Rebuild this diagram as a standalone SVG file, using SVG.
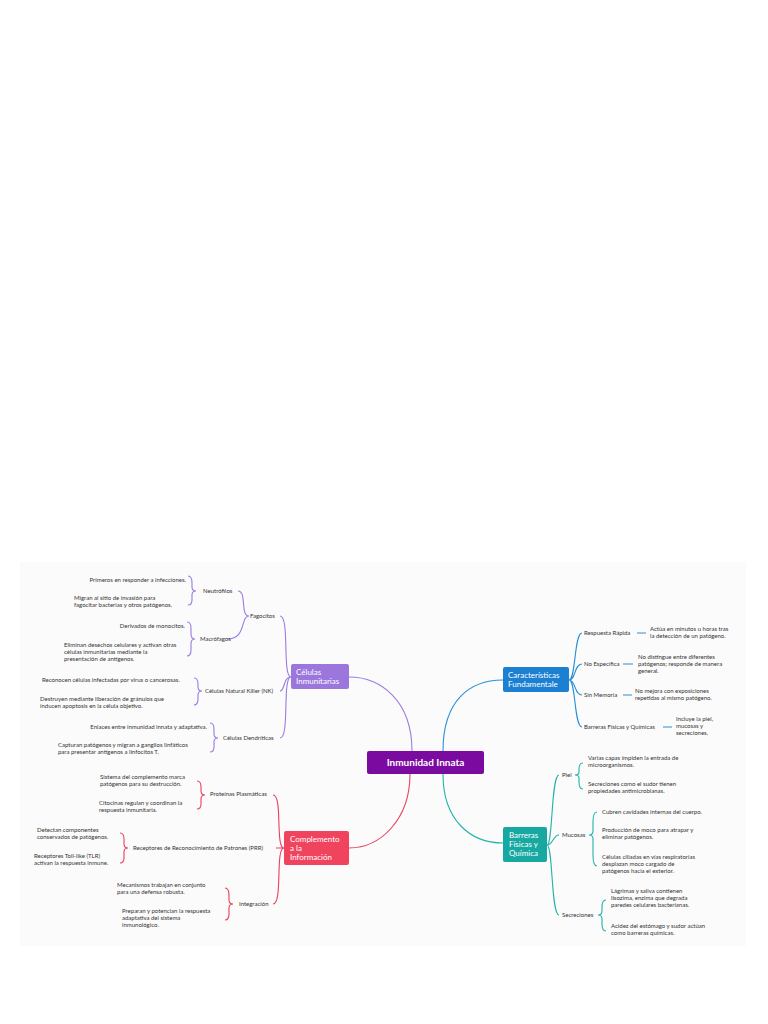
<svg xmlns="http://www.w3.org/2000/svg" width="768" height="1024" viewBox="0 0 768 1024">
<style>
text{font-family:Lato,"Open Sans",sans-serif;font-size:6px;fill:#333}
.n{font-size:8px;fill:#fff}
.p{fill:none;stroke:#9b7be0;stroke-width:1.1}
.r{fill:none;stroke:#e8405e;stroke-width:1.1}
.b{fill:none;stroke:#2a8fd6;stroke-width:1.1}
.t{fill:none;stroke:#22b3aa;stroke-width:1.1}
</style>
<rect x="0" y="0" width="768" height="1024" fill="#fff"/>
<rect x="20" y="562" width="726" height="384" fill="#fbfbfb"/>
<g id="connectors">
<path class="p" d="M412,751 C412,700 380,677 349,677"/>
<path class="b" d="M443,751 C443,700 470,680 503,680"/>
<path class="r" d="M410,774 C410,820 380,848 349,848"/>
<path class="t" d="M443,774 C443,820 470,843 503,843"/>
<!-- celulas -->
<path class="p" d="M291,677 C282,677 290,616 280,616 M291,677 C283,677 285,691 280,691 M291,677 C282,677 290,738 280,738"/>
<path class="p" d="M249,616 C240,616 247,591 238,591 M249,616 C240,616 247,639 227,639"/>
<path class="p" d="M188,576 Q192,576 192,583 L192,587 Q192,591 196,591 Q192,591 192,595 L192,600 Q192,605 188,605"/>
<path class="p" d="M187,622 Q191,622 191,628 L191,634 Q191,639 195,639 Q191,639 191,644 L191,650 Q191,656 187,656"/>
<path class="p" d="M194,678 Q198,678 198,684 L198,687 Q198,691 202,691 Q198,691 198,695 L198,699 Q198,705 194,705"/>
<path class="p" d="M210,723 Q214,723 214,729 L214,734 Q214,738 218,738 Q214,738 214,742 L214,747 Q214,752 210,752"/>
<!-- complemento -->
<path class="r" d="M284,848 C275,848 283,795 273,795 M284,848 L276,848 M284,848 C275,848 283,904 273,904"/>
<path class="r" d="M197,781 Q201,781 201,787 L201,791 Q201,795 205,795 Q201,795 201,799 L201,804 Q201,809 197,809"/>
<path class="r" d="M120,833 Q124,833 124,839 L124,844 Q124,848 128,848 Q124,848 124,852 L124,858 Q124,863 120,863"/>
<path class="r" d="M225,888 Q229,888 229,895 L229,900 Q229,904 233,904 Q229,904 229,908 L229,914 Q229,920 225,920"/>
<!-- caracteristicas -->
<path class="b" d="M569,680 C576,680 574,633 582,633 M569,680 C576,680 574,664 582,664 M569,680 C576,680 574,695 582,695 M569,680 C576,680 574,727 582,727"/>
<path class="b" d="M637,633 L646,633 M623,664 L633,664 M623,695 L632,695 M663,727 L672,727"/>
<!-- barreras -->
<path class="t" d="M547,845 C553,845 551,775 559,775 M547,845 C553,845 553,835 559,835 M547,845 C553,845 551,915 559,915"/>
<path class="t" d="M583,763 Q579,763 579,769 L579,772 Q579,775 575,775 Q579,775 579,778 L579,782 Q579,789 583,789"/>
<path class="t" d="M597,812 Q593,812 593,822 L593,831 Q593,835 589,835 Q593,835 593,839 L593,855 Q593,866 597,866"/>
<path class="t" d="M606,900 Q602,900 602,907 L602,911 Q602,915 598,915 Q602,915 602,919 L602,924 Q602,931 606,931"/>
</g>
<g id="center"><rect x="367" y="751" width="117" height="23" rx="2" fill="#7b0aa0"/><text class="n" x="425.5" y="765.5" text-anchor="middle" style="font-size:10px;font-weight:bold">Inmunidad Innata</text></g>
<g id="celulas"><rect x="291" y="664" width="58" height="25" rx="2" fill="#9a76dd"/><text class="n" x="296" y="675">Células</text><text class="n" x="296" y="684">Inmunitarias</text></g>
<g id="complemento"><rect x="284" y="831" width="65" height="34" rx="2" fill="#f0435e"/><text class="n" x="290" y="842">Complemento</text><text class="n" x="290" y="851">a la</text><text class="n" x="290" y="860">Información</text></g>
<g id="caracteristicas"><rect x="503" y="667" width="66" height="25" rx="2" fill="#1b80d2"/><text class="n" x="508" y="678">Características</text><text class="n" x="508" y="687">Fundamentale</text></g>
<g id="barreras"><rect x="503" y="827" width="44" height="35" rx="2" fill="#17a9a1"/><text class="n" x="509" y="838">Barreras</text><text class="n" x="509" y="847">Físicas y</text><text class="n" x="509" y="856">Química</text></g>
<g id="cel-sub">
<text x="250" y="618">Fagocitos</text>
<text x="203" y="593">Neutrófilos</text>
<text x="200" y="641">Macrófagos</text>
<text x="205" y="693">Células Natural Killer (NK)</text>
<text x="223" y="740">Células Dendríticas</text>
<text x="186" y="582" text-anchor="end">Primeros en responder a infecciones.</text>
<text x="74" y="600">Migran al sitio de invasión para</text><text x="74" y="607">fagocitar bacterias y otros patógenos.</text>
<text x="185" y="628" text-anchor="end">Derivados de monocitos.</text>
<text x="64" y="647">Eliminan desechos celulares y activan otras</text><text x="64" y="654">células inmunitarias mediante la</text><text x="64" y="661">presentación de antígenos.</text>
<text x="42" y="682">Reconocen células infectadas por virus o cancerosas.</text>
<text x="40" y="701">Destruyen mediante liberación de gránulos que</text><text x="40" y="708">inducen apoptosis en la célula objetivo.</text>
<text x="207" y="729" text-anchor="end">Enlaces entre inmunidad innata y adaptativa.</text>
<text x="58" y="747">Capturan patógenos y migran a ganglios linfáticos</text><text x="58" y="754">para presentar antígenos a linfocitos T.</text>
</g>
<g id="comp-sub">
<text x="210" y="796">Proteínas Plasmáticas</text>
<text x="133" y="850">Receptores de Reconocimiento de Patrones (PRR)</text>
<text x="239" y="906">Integración</text>
<text x="100" y="779">Sistema del complemento marca</text><text x="100" y="786">patógenos para su destrucción.</text>
<text x="99" y="805">Citocinas regulan y coordinan la</text><text x="99" y="812">respuesta inmunitaria.</text>
<text x="37" y="832">Detectan componentes</text><text x="37" y="839">conservados de patógenos.</text>
<text x="34" y="858">Receptores Toll-like (TLR)</text><text x="34" y="865">activan la respuesta inmune.</text>
<text x="117" y="887">Mecanismos trabajan en conjunto</text><text x="117" y="894">para una defensa robusta.</text>
<text x="122" y="913">Preparan y potencian la respuesta</text><text x="122" y="920">adaptativa del sistema</text><text x="122" y="927">inmunológico.</text>
</g>
<g id="car-sub">
<text x="584" y="635">Respuesta Rápida</text>
<text x="584" y="666">No Específica</text>
<text x="584" y="697">Sin Memoria</text>
<text x="584" y="729">Barreras Físicas y Químicas</text>
<text x="650" y="631">Actúa en minutos u horas tras</text><text x="650" y="638">la detección de un patógeno.</text>
<text x="638" y="659">No distingue entre diferentes</text><text x="638" y="666">patógenos; responde de manera</text><text x="638" y="673">general.</text>
<text x="635" y="693">No mejora con exposiciones</text><text x="635" y="700">repetidas al mismo patógeno.</text>
<text x="676" y="721">Incluye la piel,</text><text x="676" y="728">mucosas y</text><text x="676" y="735">secreciones.</text>
</g>
<g id="bar-sub">
<text x="562" y="777">Piel</text>
<text x="562" y="837">Mucosas</text>
<text x="562" y="917">Secreciones</text>
<text x="588" y="760">Varias capas impiden la entrada de</text><text x="588" y="767">microorganismos.</text>
<text x="588" y="786">Secreciones como el sudor tienen</text><text x="588" y="793">propiedades antimicrobianas.</text>
<text x="602" y="814">Cubren cavidades internas del cuerpo.</text>
<text x="602" y="832">Producción de moco para atrapar y</text><text x="602" y="839">eliminar patógenos.</text>
<text x="602" y="859">Células ciliadas en vías respiratorias</text><text x="602" y="866">desplazan moco cargado de</text><text x="602" y="873">patógenos hacia el exterior.</text>
<text x="611" y="893">Lágrimas y saliva contienen</text><text x="611" y="900">lisozima, enzima que degrada</text><text x="611" y="907">paredes celulares bacterianas.</text>
<text x="611" y="928">Acidez del estómago y sudor actúan</text><text x="611" y="935">como barreras químicas.</text>
</g>
</svg>
